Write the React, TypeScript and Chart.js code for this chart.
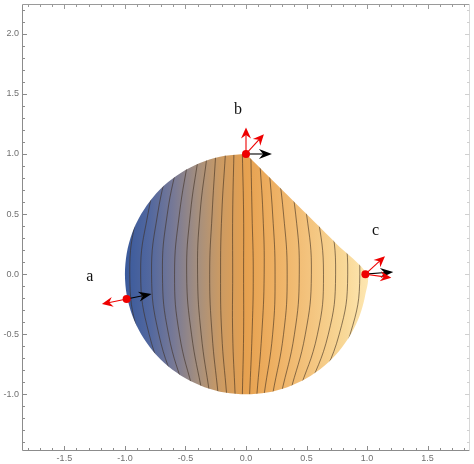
import React, { useEffect, useRef } from "react";
import { Chart, registerables } from "chart.js";

Chart.register(...registerables);

// ---- axes ----
const xRange = [-1.85, 1.85];
const yRange = [-1.463, 2.248];
const xMajorTicks = [-1.5, -1.0, -0.5, 0.0, 0.5, 1.0, 1.5];
const yMajorTicks = [-1.0, -0.5, 0.0, 0.5, 1.0, 1.5, 2.0];

// ---- region boundary (arc from b round the left to c, then straight back to b) ----
const regionX = [0, -0.174, -0.342, -0.5, -0.643, -0.766, -0.866, -0.94, -0.985, -1, -0.985, -0.94, -0.866, -0.766, -0.643, -0.5, -0.342, -0.174, 0, 0.174, 0.342, 0.5, 0.643, 0.766, 0.866, 0.94, 0.985, 1, 0.75, 0.5, 0.25, 0];
const regionY = [1, 0.985, 0.94, 0.866, 0.766, 0.643, 0.5, 0.342, 0.174, 0, -0.174, -0.342, -0.5, -0.643, -0.766, -0.866, -0.94, -0.985, -1, -0.985, -0.94, -0.866, -0.766, -0.643, -0.5, -0.342, -0.174, 0, 0.25, 0.5, 0.75, 1];

// ---- colour of the shading across x ----
const gradientX = [-1.0, -0.8, -0.6, -0.4, -0.2, 0.0, 0.2, 0.5, 0.8, 1.0];
const gradientColors = ["#3a5a9c", "#51679f", "#777996", "#a58f7e", "#cd9b62", "#e6a150", "#edae60", "#f3c27c", "#f8d796", "#fde6b0"];

// ---- contour lines: x position of each line at the heights in contourY ----
const contourY = [1.0, 0.5, 0.0, -0.5, -1.0];
const contourTop = [-0.76, -0.69, -0.62, -0.55, -0.47, -0.39, -0.32, -0.25, -0.17, -0.1, -0.03, 0.04, 0.11, 0.18, 0.25, 0.33, 0.41, 0.49, 0.57, 0.64, 0.72];
const contourUpper = [-0.9, -0.81, -0.73, -0.65, -0.55, -0.46, -0.38, -0.28, -0.2, -0.11, -0.02, 0.05, 0.14, 0.22, 0.31, 0.41, 0.5, 0.59, 0.69, 0.78, 0.87];
const contourMid = [-0.96, -0.87, -0.78, -0.69, -0.59, -0.49, -0.4, -0.3, -0.21, -0.11, -0.02, 0.06, 0.15, 0.24, 0.34, 0.44, 0.54, 0.64, 0.74, 0.84, 0.94];
const contourLower = [-0.89, -0.8, -0.72, -0.64, -0.55, -0.45, -0.37, -0.28, -0.2, -0.11, -0.02, 0.05, 0.13, 0.22, 0.31, 0.4, 0.49, 0.59, 0.68, 0.77, 0.86];
const contourBottom = [-0.69, -0.62, -0.56, -0.5, -0.43, -0.36, -0.3, -0.23, -0.16, -0.09, -0.03, 0.03, 0.09, 0.15, 0.22, 0.29, 0.36, 0.43, 0.5, 0.57, 0.64];

// ---- points a, b, c ----
const markerNames = ["a", "b", "c"];
const markerX = [-0.986, 0.0, 0.986];
const markerY = [-0.207, 1.0, 0.0];
const labelX = [-1.29, -0.066, 1.07];
const labelY = [-0.02, 1.37, 0.36];

// ---- arrows ----
const arrowFromX = [-0.986, -0.986, 0.0, 0.0, 0.0, 0.986, 0.986, 0.986];
const arrowFromY = [-0.207, -0.207, 1.0, 1.0, 1.0, 0.0, 0.0, 0.0];
const arrowToX = [-0.78, -1.19, 0.214, 0.0, 0.148, 1.216, 1.148, 1.2];
const arrowToY = [-0.165, -0.248, 1.0, 1.22, 1.165, 0.019, 0.149, -0.03];
const arrowColors = ["#000000", "#ee0000", "#000000", "#ee0000", "#ee0000", "#000000", "#ee0000", "#ee0000"];

function regionPath(chart: any) {
  // reuse the region dataset's own (smoothed) line element as clip path
  const meta = chart.getDatasetMeta(1);
  const line = meta && meta.dataset;
  const ctx = chart.ctx;
  ctx.beginPath();
  if (line && line.path) {
    line.path(ctx);
  } else {
    const xs = chart.scales.x;
    const ys = chart.scales.y;
    regionX.forEach((x, i) => {
      const px = xs.getPixelForValue(x);
      const py = ys.getPixelForValue(regionY[i]);
      if (i === 0) ctx.moveTo(px, py);
      else ctx.lineTo(px, py);
    });
  }
  ctx.closePath();
}

function drawArrow(ctx: CanvasRenderingContext2D, x1: number, y1: number, x2: number, y2: number, color: string) {
  const ang = Math.atan2(y2 - y1, x2 - x1);
  const black = color === "#000000";
  const L = black ? 13 : 11;
  const W = 5;
  ctx.save();
  ctx.strokeStyle = color;
  ctx.fillStyle = color;
  ctx.lineWidth = 1.1;
  ctx.beginPath();
  ctx.moveTo(x1, y1);
  ctx.lineTo(x2 - Math.cos(ang) * L * 0.6, y2 - Math.sin(ang) * L * 0.6);
  ctx.stroke();
  ctx.translate(x2, y2);
  ctx.rotate(ang);
  ctx.beginPath();
  ctx.moveTo(0, 0);
  ctx.lineTo(-L, -W);
  ctx.lineTo(-L * 0.68, 0);
  ctx.lineTo(-L, W);
  ctx.closePath();
  ctx.fill();
  ctx.restore();
}

const figurePlugin = {
  id: "figure",
  beforeDatasetDraw(chart: any, args: any) {
    const ds = chart.data.datasets[args.index];
    if (ds.kind === "contour") {
      chart.ctx.save();
      regionPath(chart);
      chart.ctx.clip();
    }
    if (ds.kind === "markers") {
      const xs = chart.scales.x;
      const ys = chart.scales.y;
      arrowFromX.forEach((_, i) => {
        drawArrow(
          chart.ctx,
          xs.getPixelForValue(arrowFromX[i]),
          ys.getPixelForValue(arrowFromY[i]),
          xs.getPixelForValue(arrowToX[i]),
          ys.getPixelForValue(arrowToY[i]),
          arrowColors[i]
        );
      });
    }
  },
  afterDatasetDraw(chart: any, args: any) {
    const ds = chart.data.datasets[args.index];
    if (ds.kind === "contour") chart.ctx.restore();
  },
  afterDraw(chart: any) {
    const ctx = chart.ctx as CanvasRenderingContext2D;
    const { left, right, top, bottom } = chart.chartArea;
    const xs = chart.scales.x;
    const ys = chart.scales.y;
    // labels a, b, c
    ctx.save();
    ctx.fillStyle = "#111";
    ctx.font = "16px 'Liberation Serif', serif";
    ctx.textAlign = "center";
    ctx.textBaseline = "middle";
    markerNames.forEach((n, i) => {
      ctx.fillText(n, xs.getPixelForValue(labelX[i]), ys.getPixelForValue(labelY[i]));
    });
    ctx.restore();
    // frame
    ctx.save();
    ctx.lineWidth = 1;
    const side = (color: string, x1: number, y1: number, x2: number, y2: number) => {
      ctx.strokeStyle = color;
      ctx.beginPath();
      ctx.moveTo(x1, y1);
      ctx.lineTo(x2, y2);
      ctx.stroke();
    };
    const L = Math.round(left) + 0.5;
    const R = Math.round(right) - 0.5;
    const T = Math.round(top) + 0.5;
    const B = Math.round(bottom) + 0.5;
    side("#8c8c8c", L, T, L, B);
    side("#8c8c8c", L, B, R, B);
    side("#9a9a9a", L, T, R, T);
    side("#d8d8d8", R, T, R, B);
    for (let k = -18; k <= 18; k++) {
      const v = k / 10;
      const major = k % 5 === 0;
      const len = major ? 4.5 : 2.5;
      const px = Math.round(xs.getPixelForValue(v)) + 0.5;
      side("#8c8c8c", px, B, px, B - len);
      side("#9a9a9a", px, T, px, T + len);
    }
    for (let k = -14; k <= 22; k++) {
      const v = k / 10;
      const major = k % 5 === 0;
      const len = major ? 4.5 : 2.5;
      const py = Math.round(ys.getPixelForValue(v)) + 0.5;
      side("#8c8c8c", L, py, L + len, py);
      side("#d0d0d0", R, py, R - len, py);
    }
    ctx.restore();
  },
};

export default function App() {
  const ref = useRef<HTMLCanvasElement | null>(null);
  useEffect(() => {
    if (!ref.current) return;
    const rows = [contourTop, contourUpper, contourMid, contourLower, contourBottom];
    const contourSets = contourMid.map((_, j) => ({
      kind: "contour",
      type: "scatter",
      showLine: true,
      data: contourY.map((y, i) => ({ x: rows[i][j], y })),
      borderColor: "rgba(60,45,30,0.66)",
      borderWidth: 0.9,
      pointRadius: 0,
      tension: 0.45,
      fill: false,
      order: 2,
    }));
    const chart = new Chart(ref.current, {
      type: "scatter",
      data: {
        datasets: [
          {
            kind: "markers",
            data: markerX.map((x, i) => ({ x, y: markerY[i] })),
            pointRadius: 4,
            pointBackgroundColor: "#ee0000",
            pointBorderColor: "#ee0000",
            pointBorderWidth: 0,
            showLine: false,
            order: 0,
          } as any,
          {
            kind: "region",
            data: regionX.map((x, i) => ({ x, y: regionY[i] })),
            showLine: true,
            borderWidth: 0,
            borderColor: "rgba(0,0,0,0)",
            pointRadius: 0,
            fill: "shape",
            tension: 0.3,
            order: 3,
            backgroundColor: (c: any) => {
              const ch = c.chart;
              if (!ch.chartArea) return "#e6a455";
              const xs = ch.scales.x;
              const x0 = xs.getPixelForValue(gradientX[0]);
              const x1 = xs.getPixelForValue(gradientX[gradientX.length - 1]);
              const g = ch.ctx.createLinearGradient(x0, 0, x1, 0);
              gradientX.forEach((gx, i) => {
                g.addColorStop((gx - gradientX[0]) / (gradientX[gradientX.length - 1] - gradientX[0]), gradientColors[i]);
              });
              return g;
            },
          } as any,
          ...(contourSets as any[]),
        ],
      },
      options: {
        animation: false,
        responsive: true,
        maintainAspectRatio: false,
        layout: { padding: { left: 0, right: 2, top: 0, bottom: 0 } },
        plugins: { legend: { display: false }, tooltip: { enabled: false } },
        scales: {
          x: {
            type: "linear",
            min: xRange[0],
            max: xRange[1],
            grid: { display: false, drawTicks: false },
            border: { display: false },
            afterBuildTicks: (s: any) => {
              s.ticks = xMajorTicks.map((v) => ({ value: v }));
            },
            afterFit: (s: any) => {
              s.height = 14;
              s.paddingLeft = 0;
              s.paddingRight = 0;
            },
            ticks: {
              padding: 3,
              color: "#707070",
              font: { size: 9, family: "'Liberation Sans', Arial, sans-serif" },
              callback: (v: any) => Number(v).toFixed(1),
              maxRotation: 0,
              autoSkip: false,
            },
          },
          y: {
            type: "linear",
            min: yRange[0],
            max: yRange[1],
            grid: { display: false, drawTicks: false },
            border: { display: false },
            afterBuildTicks: (s: any) => {
              s.ticks = yMajorTicks.map((v) => ({ value: v }));
            },
            afterFit: (s: any) => {
              s.width = 22;
              s.paddingTop = 0;
              s.paddingBottom = 0;
            },
            ticks: {
              padding: 3,
              color: "#707070",
              font: { size: 9, family: "'Liberation Sans', Arial, sans-serif" },
              callback: (v: any) => Number(v).toFixed(1),
              autoSkip: false,
            },
          },
        },
      },
      plugins: [figurePlugin],
    } as any);
    return () => chart.destroy();
  }, []);
  return (
    <div style={{ position: "fixed", left: 0, top: 0, width: 474, height: 464, background: "#fff" }}>
      <canvas ref={ref} />
    </div>
  );
}
